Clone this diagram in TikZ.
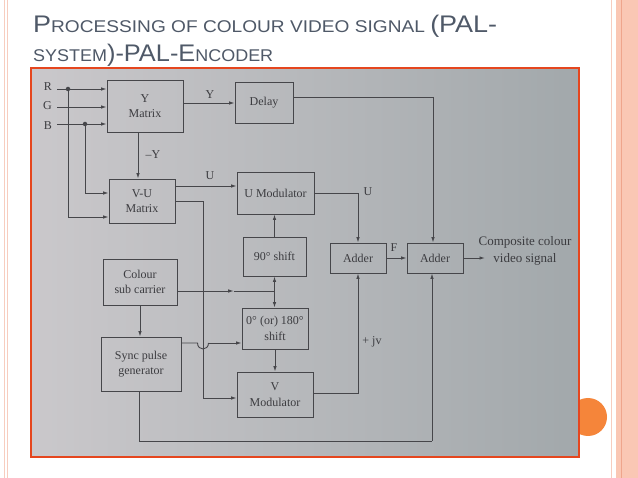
\documentclass[tikz,border=0pt]{standalone}
\usepackage{fontspec}
\setmainfont{Liberation Serif}
\newfontfamily\titlefont{Liberation Sans}
\usetikzlibrary{arrows.meta,calc}
\definecolor{linecol}{HTML}{46464A}
\definecolor{txtcol}{HTML}{3C3C40}
\definecolor{titlecol}{HTML}{4F5968}
\definecolor{framecol}{HTML}{E5461E}
\definecolor{phL}{HTML}{CAC8CB}
\definecolor{phM}{HTML}{BDC1C4}
\definecolor{phR}{HTML}{A2A8AB}
\definecolor{salmon}{HTML}{FAC7B4}
\definecolor{pinkline}{HTML}{F7CDBF}
\definecolor{darkpink}{HTML}{EFA58C}
\definecolor{orangedot}{HTML}{F5853A}
\newcommand\tB[1]{{\fontsize{24}{24}\selectfont #1}}
\newcommand\tS[1]{{\fontsize{17}{17}\selectfont #1}}
\begin{document}
\begin{tikzpicture}[x=1pt,y=-1pt,
  blk/.style={draw=linecol, line width=0.9pt, inner sep=0pt, align=center,
    text=txtcol, font=\fontsize{12}{15.5}\selectfont},
  lbl/.style={text=txtcol, font=\fontsize{12}{15.5}\selectfont, inner sep=0pt},
  wire/.style={draw=linecol, line width=0.9pt},
  arr/.style={wire, -{Latex[length=5.5pt,width=3.5pt]}},
  dot/.style={circle, fill=linecol, inner sep=0pt, minimum size=4.5pt}]
\useasboundingbox (0,0) rectangle (638,478);
\fill[white] (0,0) rectangle (638,478);
% slide decorations
\fill[salmon] (616,0) rectangle (638,478);
\draw[pinkline, line width=1pt] (611,0) -- (611,478);
\draw[darkpink, line width=0.8pt] (621,0) -- (621,478);
\draw[pinkline, line width=1pt] (4,0) -- (4,478);
\draw[pinkline, line width=0.8pt] (7.5,0) -- (7.5,478);
\fill[orangedot] (588,417) circle[radius=19pt];
% title
\node[anchor=base west, inner sep=0pt, text=titlecol, font=\titlefont] (t1) at (33,33)
  {\resizebox{464pt}{\height}{\tB{P}\tS{ROCESSING OF COLOUR VIDEO SIGNAL }\tB{(PAL-}}};
\node[anchor=base west, inner sep=0pt, text=titlecol, font=\titlefont] (t2) at (33,62)
  {\resizebox{240pt}{\height}{\tS{SYSTEM}\tB{)-PAL-E}\tS{NCODER}}};
% photo
\shade[left color=phL, middle color=phM, right color=phR] (31,68) rectangle (579,457);
\draw[framecol, line width=2.6pt] (31,68) rectangle (579,457);
% blocks
\node[blk, minimum width=76pt, minimum height=52pt] (ym) at (145,106) {Y\\Matrix};
\node[blk, minimum width=58pt, minimum height=41pt] (delay) at (264,102.5) {Delay};
\node[blk, minimum width=66pt, minimum height=44pt] (vu) at (142,201) {V-U\\Matrix};
\node[blk, minimum width=77pt, minimum height=42pt] (umod) at (275.5,193) {U Modulator};
\node[blk, minimum width=63pt, minimum height=39pt] (s90) at (274.5,256.5) {90° shift};
\node[blk, minimum width=56pt, minimum height=30pt] (add1) at (358,258) {Adder};
\node[blk, minimum width=56pt, minimum height=30pt] (add2) at (435,258) {Adder};
\node[blk, minimum width=74pt, minimum height=46pt] (csc) at (140,282) {Colour\\sub carrier};
\node[blk, minimum width=66pt, minimum height=41pt] (s180) at (275,328.5) {0° (or) 180°\\shift};
\node[blk, minimum width=80pt, minimum height=54pt] (sync) at (141,364) {Sync pulse\\generator};
\node[blk, minimum width=76pt, minimum height=45pt] (vmod) at (275,394.5) {V\\Modulator};
% inputs
\node[lbl, anchor=east] (lR) at (52,87) {R};
\node[lbl, anchor=east] (lG) at (52,106) {G};
\node[lbl, anchor=east] (lB) at (52,126) {B};
\coordinate (rin) at (57,89);
\coordinate (gin) at (57,107);
\coordinate (bin) at (57,124);
\draw[arr] (rin) -- (rin -| ym.west);
\draw[arr] (gin) -- (gin -| ym.west);
\draw[arr] (bin) -- (bin -| ym.west);
\node[dot] (dR) at (68,89) {};
\node[dot] (dB) at (85,124) {};
\draw[arr] (dR.center) |- ([yshift=-16pt]vu.west);
\draw[arr] (dB.center) |- ([yshift=8pt]vu.west);
% Y matrix outputs
\draw[arr] ([xshift=-7pt]ym.south) -- ([xshift=-7pt]ym.south |- vu.north);
\node[lbl] (lmY) at (153,155) {–Y};
\draw[arr] ([yshift=3pt]ym.east) -- ([yshift=3pt]ym.east -| delay.west);
\node[lbl] (lY) at (210,95) {Y};
% V-U outputs
\draw[arr] ([yshift=15pt]vu.east) -- ([yshift=15pt]vu.east -| umod.west);
\node[lbl] (lU1) at (210,176) {U};
\coordinate (vuc) at (203,201);
\coordinate (vud) at (203,398);
\draw[wire] (vu.east) -- (vuc) -- (vud);
\draw[arr] (vud) -- (vud -| vmod.west);
% delay to adder2
\coordinate (dlc) at (433,97);
\draw[wire] ([yshift=5.5pt]delay.east) -- (dlc);
\draw[arr] (dlc) -- (dlc |- add2.north);
% U modulator to adder1
\draw[arr] (umod.east) -| (add1.north);
\node[lbl] (lU2) at (368,192) {U};
% 90 shift to U mod
\draw[arr] (s90.north) -- (s90.north |- umod.south);
% colour sub carrier
\coordinate (cscout) at ([yshift=-9pt]csc.east);
\coordinate (jn) at (cscout -| 274.5,0);
\coordinate (cmid) at ($(cscout)!0.58!(jn)$);
\draw[arr] (cscout) -- (cmid);
\draw[wire] (cmid) -- (jn);
\draw[arr] (jn) -- (jn |- s90.south);
\draw[arr] (jn) -- (jn |- s180.north);
\draw[arr] (csc.south) -- (csc.south |- sync.north);
% sync to 0/180 shift with jump
\coordinate (sy0) at ([yshift=21pt]sync.east);
\coordinate (hj1) at (197.5,343);
\coordinate (hj2) at (208.5,343);
\draw[wire] (sy0) -- (hj1) .. controls (197.5,351) and (208.5,351) .. (hj2);
\draw[arr] (hj2) -- (hj2 -| s180.west);
% 0/180 to V mod
\draw[arr] (s180.south) -- (s180.south |- vmod.north);
% V mod to adder1
\draw[arr] ([yshift=1.5pt]vmod.east) -| (add1.south);
\node[lbl] (ljv) at (372,342) {+ jv};
% adders
\draw[arr] (add1.east) -- (add2.west);
\node[lbl] (lF) at (394,248) {F};
\coordinate (outp) at (485,258);
\draw[arr] (add2.east) -- (outp);
\node[lbl, align=center, font=\fontsize{13}{16.5}\selectfont] (comp) at (525,251) {Composite colour\\video signal};
% sync bottom to adder2
\coordinate (sb1) at ([xshift=-2pt]sync.south |- 0,441);
\coordinate (sb2) at (432,441);
\draw[wire] ([xshift=-2pt]sync.south) -- (sb1) -- (sb2);
\draw[arr] (sb2) -- (sb2 |- add2.south);
\end{tikzpicture}
\end{document}
